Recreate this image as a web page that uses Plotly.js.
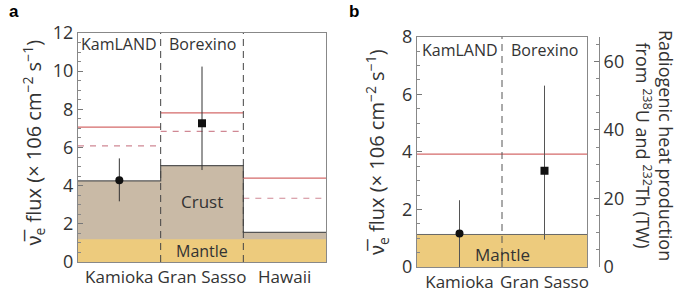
<!DOCTYPE html>
<html><head><meta charset="utf-8">
<script src="https://cdn.plot.ly/plotly-3.0.1.min.js"></script>
<style>html,body{margin:0;padding:0;background:#fff}</style>
</head><body><div id="chart" style="width:685px;height:293px"></div>
<script>
// Panel a data
const sitesA = ['Kamioka', 'Gran Sasso', 'Hawaii'];
const mantleA = [1.19, 1.19, 1.19];
const crustA = [4.25, 5.05, 1.55];
const redSolidA = [7.07, 7.81, 4.39];
const redDashA = [6.08, 6.85, 3.34];
const measA = [4.28, 7.27];
const measAplus = [1.15, 2.97];
const measAminus = [1.10, 2.45];
// Panel b data
const sitesB = ['Kamioka', 'Gran Sasso'];
const mantleB = [1.13, 1.13];
const redSolidB = [3.92, 3.92];
const measB = [1.16, 3.34];
const measBplus = [1.16, 2.96];
const measBminus = [1.16, 2.39];

const FONT = 'Open Sans, sans-serif';
const TXT = '#333';

function stepX(n){const x=[];for(let i=0;i<=n;i++)x.push(i-0.5);return x;}
function stepY(v){return v.concat([v[v.length-1]]);}
function segs(v){const x=[],y=[];v.forEach((val,i)=>{x.push(i-0.5,i+0.5,null);y.push(val,val,null);});return {x,y};}

const traces = [];
// Panel a
traces.push({x:stepX(sitesA.length), y:stepY(crustA), type:'scatter', mode:'lines', line:{shape:'hv', color:'#555', width:1.2}, fill:'tozeroy', fillcolor:'#c9baa6', xaxis:'x', yaxis:'y', hoverinfo:'skip'});
traces.push({x:stepX(sitesA.length), y:stepY(mantleA), type:'scatter', mode:'lines', line:{shape:'hv', color:'rgba(0,0,0,0)', width:0}, fill:'tozeroy', fillcolor:'#edcb7d', xaxis:'x', yaxis:'y', hoverinfo:'skip'});
let s = segs(redSolidA);
traces.push({x:s.x, y:s.y, type:'scatter', mode:'lines', line:{color:'#d46a6a', width:1.2}, xaxis:'x', yaxis:'y', connectgaps:false});
s = segs(redDashA);
traces.push({x:s.x, y:s.y, type:'scatter', mode:'lines', line:{color:'#d08894', width:1.2, dash:'6px,6px'}, xaxis:'x', yaxis:'y', connectgaps:false});
traces.push({x:[0], y:[measA[0]], type:'scatter', mode:'markers', marker:{symbol:'circle', size:8, color:'#111'}, error_y:{type:'data', array:[measAplus[0]], arrayminus:[measAminus[0]], color:'#333', thickness:1, width:0}, xaxis:'x', yaxis:'y'});
traces.push({x:[1], y:[measA[1]], type:'scatter', mode:'markers', marker:{symbol:'square', size:8, color:'#111'}, error_y:{type:'data', array:[measAplus[1]], arrayminus:[measAminus[1]], color:'#333', thickness:1, width:0}, xaxis:'x', yaxis:'y'});
// Panel b
traces.push({x:stepX(sitesB.length), y:stepY(mantleB), type:'scatter', mode:'lines', line:{shape:'hv', color:'#666', width:1}, fill:'tozeroy', fillcolor:'#edcb7d', xaxis:'x2', yaxis:'y2', hoverinfo:'skip'});
s = segs(redSolidB);
traces.push({x:s.x, y:s.y, type:'scatter', mode:'lines', line:{color:'#d46a6a', width:1.2}, xaxis:'x2', yaxis:'y2'});
traces.push({x:[0], y:[measB[0]], type:'scatter', mode:'markers', marker:{symbol:'circle', size:8, color:'#111'}, error_y:{type:'data', array:[measBplus[0]], arrayminus:[measBminus[0]], color:'#555', thickness:1, width:0}, xaxis:'x2', yaxis:'y2'});
traces.push({x:[1], y:[measB[1]], type:'scatter', mode:'markers', marker:{symbol:'square', size:8, color:'#111'}, error_y:{type:'data', array:[measBplus[1]], arrayminus:[measBminus[1]], color:'#555', thickness:1, width:0}, xaxis:'x2', yaxis:'y2'});
// right axis anchor trace (invisible)
traces.push({x:[0], y:[0], type:'scatter', mode:'markers', marker:{opacity:0}, xaxis:'x2', yaxis:'y3', hoverinfo:'skip'});

const yax = (range, dom)=>({range:range, domain:dom, showgrid:false, zeroline:false, showline:true, mirror:true, linecolor:'#888', linewidth:1,
  ticks:'inside', ticklen:5, tickcolor:'#777', dtick:2, minor:{ticks:'inside', ticklen:3, dtick:0.5, tickcolor:'#888'},
  tickfont:{family:FONT, size:18, color:TXT}, fixedrange:true});
const xax = (n, dom, anchor)=>({range:[-0.5, n-0.5], domain:dom, anchor:anchor, showgrid:false, zeroline:false, showline:true, mirror:true, linecolor:'#888', linewidth:1,
  ticks:'', tickangle:0, tickvals:[...Array(n).keys()], ticktext: n===3?sitesA:sitesB, tickfont:{family:FONT, size:17, color:TXT}});

const H=293, W=685;
const domXa=[78/W, 326/W], domYa=[(H-262)/H, (H-33)/H];
const domXb=[417/W, 587/W], domYb=[(H-267)/H, (H-36.7)/H];

const ytitle = 'ν̅<sub>e</sub> flux (× 106 cm<sup>−2</sup> s<sup>−1</sup>)';
const ann = (x,y,text,xref,yref,extra)=>Object.assign({x,y,text,xref,yref,showarrow:false,xanchor:'center',yanchor:'middle',font:{family:FONT,size:16,color:TXT}},extra||{});

const layout = {
  width:W, height:H, margin:{l:0,r:0,t:0,b:0}, showlegend:false, paper_bgcolor:'#fff', plot_bgcolor:'#fff',
  xaxis: xax(3, domXa, 'y'),
  yaxis: Object.assign(yax([0,12], domYa), {anchor:'x'}),
  xaxis2: xax(2, domXb, 'y2'),
  yaxis2: Object.assign(yax([0,8], domYb), {anchor:'x2'}),
  yaxis3: {range:[0, 67.2], domain:domYb, overlaying:'y2', side:'right', anchor:'free', position:599/W,
    showgrid:false, zeroline:false, showline:true, linecolor:'#888', linewidth:1, ticks:'inside', ticklen:5, tickcolor:'#777',
    dtick:20, minor:{ticks:'inside', ticklen:3, dtick:5, tickcolor:'#888'}, tickfont:{family:FONT, size:18, color:TXT}},
  shapes: [
    {type:'line', xref:'x', yref:'y', x0:0.5, x1:0.5, y0:0, y1:12, line:{color:'#444', width:1, dash:'7px,5px'}},
    {type:'line', xref:'x', yref:'y', x0:1.5, x1:1.5, y0:0, y1:12, line:{color:'#444', width:1, dash:'7px,5px'}},
    {type:'line', xref:'x2', yref:'y2', x0:0.5, x1:0.5, y0:0, y1:8, line:{color:'#555', width:1, dash:'7px,5px'}}
  ],
  annotations: [
    ann(0, 11.4, 'KamLAND', 'x', 'y'),
    ann(1, 11.4, 'Borexino', 'x', 'y'),
    ann(1, 3.15, 'Crust', 'x', 'y', {font:{family:FONT,size:17,color:TXT}}),
    ann(1, 0.6, 'Mantle', 'x', 'y'),
    ann(0, 7.55, 'KamLAND', 'x2', 'y2'),
    ann(1, 7.55, 'Borexino', 'x2', 'y2'),
    ann(0.5, 0.42, 'Mantle', 'x2', 'y2', {font:{family:FONT,size:17,color:TXT}}),
    ann(33/W, 1-142.5/H, ytitle, 'paper', 'paper', {textangle:-90, font:{family:FONT,size:20,color:TXT}}),
    ann(377/W, 1-152/H, ytitle, 'paper', 'paper', {textangle:-90, font:{family:FONT,size:20,color:TXT}}),
    ann(655/W, 1-145/H, 'Radiogenic heat production<br>from <sup>238</sup>U and <sup>232</sup>Th (TW)', 'paper', 'paper', {textangle:90, font:{family:FONT,size:18,color:TXT}}),
    ann(7/W, 1-12/H, '<b>a</b>', 'paper', 'paper', {xanchor:'left', font:{family:'Liberation Sans, Arial, sans-serif',size:17,color:'#000'}}),
    ann(347/W, 1-12/H, '<b>b</b>', 'paper', 'paper', {xanchor:'left', font:{family:'Liberation Sans, Arial, sans-serif',size:17,color:'#000'}})
  ]
};
Plotly.newPlot('chart', traces, layout, {staticPlot:true, displayModeBar:false});
</script></body></html>
